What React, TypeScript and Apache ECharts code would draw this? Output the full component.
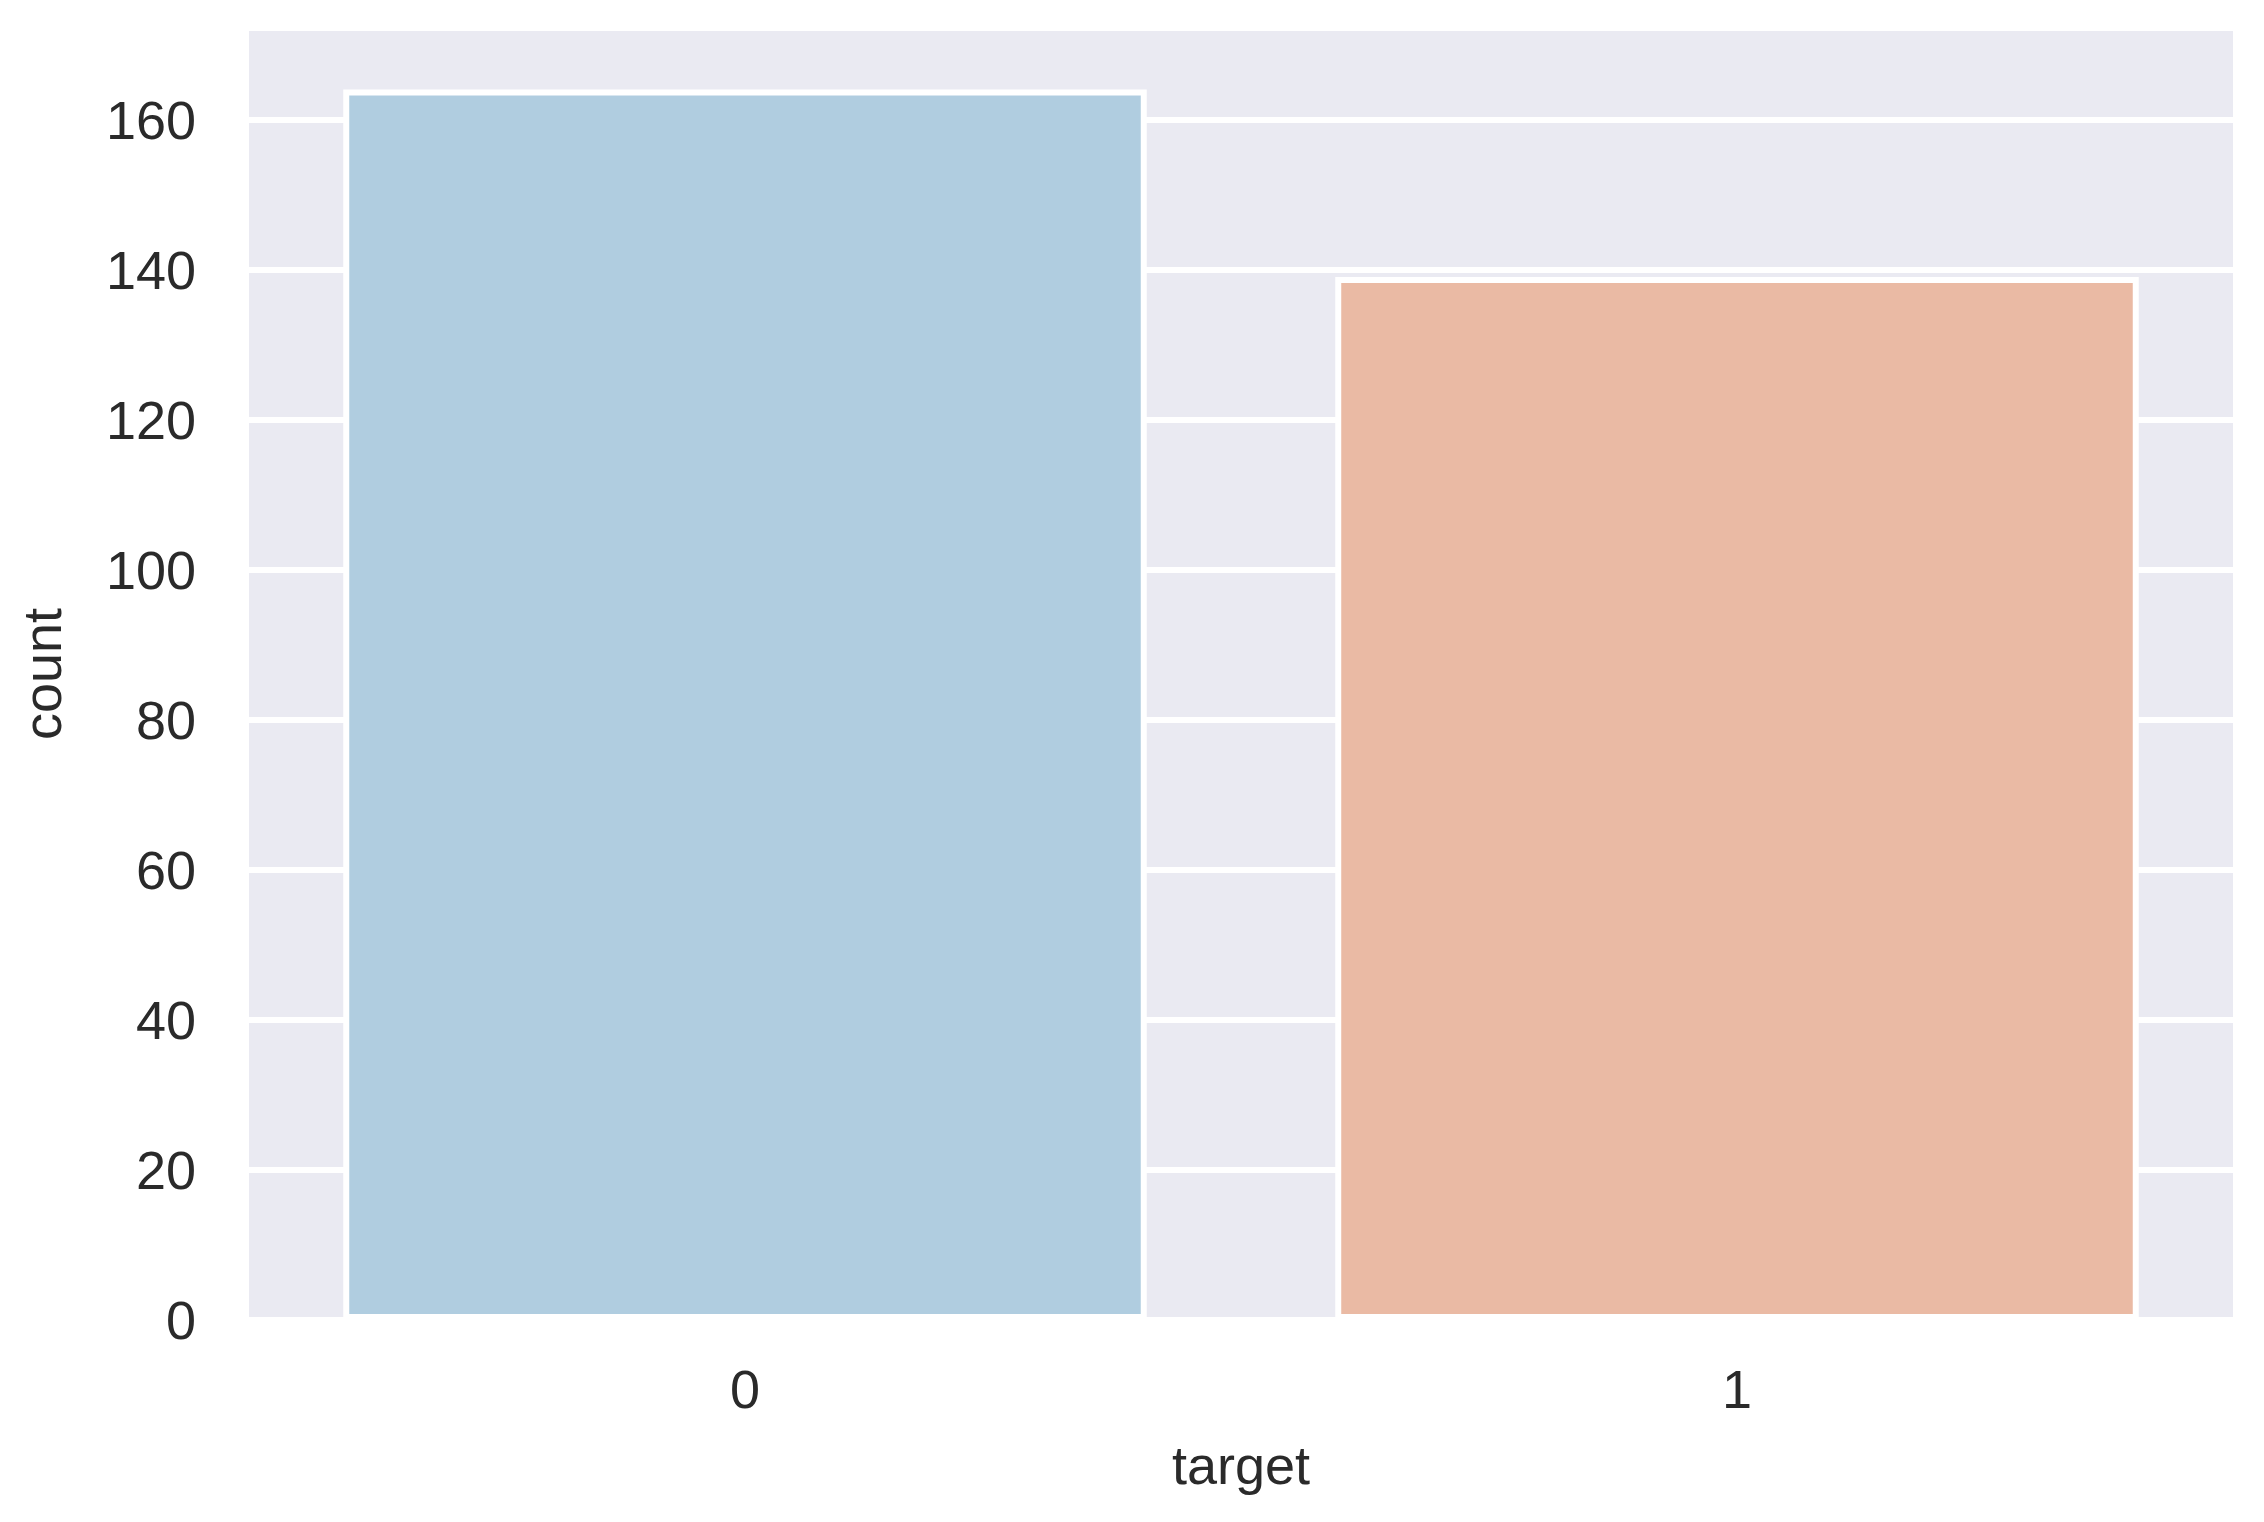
import React, { useEffect, useRef } from "react";
import * as echarts from "echarts";

const categories = ["0", "1"];
const counts = [164, 139];
const barColors = ["#b0cde0", "#eabaa4"];
const yTicks = [0, 20, 40, 60, 80, 100, 120, 140, 160];

export default function App() {
  const ref = useRef<HTMLDivElement>(null);
  useEffect(() => {
    const chart = echarts.init(ref.current!, undefined, { renderer: "svg" });
    const font = "Liberation Sans, Arial, sans-serif";
    chart.setOption({
      animation: false,
      backgroundColor: "#ffffff",
      grid: {
        left: 249,
        right: 2264 - 2233,
        top: 28,
        bottom: 1522 - 1320,
        show: true,
        backgroundColor: "#eaeaf2",
        borderWidth: 0,
        containLabel: false,
        outerBoundsMode: "none",
      },
      xAxis: {
        type: "category",
        data: categories,
        name: "target",
        nameLocation: "middle",
        nameGap: 118,
        nameTextStyle: { fontFamily: font, fontSize: 54, color: "#2a2a2a" },
        axisLine: { show: false },
        axisTick: { show: false },
        axisLabel: { fontFamily: font, fontSize: 54, color: "#2a2a2a", margin: 42 },
        splitLine: { show: false },
      },
      yAxis: {
        type: "value",
        min: 0,
        max: 172.2,
        interval: 20,
        name: "count",
        nameLocation: "middle",
        nameGap: 180,
        nameTextStyle: { fontFamily: font, fontSize: 54, color: "#2a2a2a" },
        axisLine: { show: false },
        axisTick: { show: false },
        axisLabel: {
          fontFamily: font,
          fontSize: 54,
          color: "#2a2a2a",
          margin: 53,
          showMaxLabel: false,
          formatter: (v: number) => (yTicks.includes(v) ? String(v) : ""),
        },
        splitLine: { show: true, lineStyle: { color: "#ffffff", width: 6 } },
      },
      series: [
        {
          type: "bar",
          barWidth: "81%",
          data: counts.map((v, i) => ({
            value: v,
            itemStyle: { color: barColors[i], borderColor: "#ffffff", borderWidth: 6 },
          })),
        },
      ],
    });
    return () => chart.dispose();
  }, []);
  return (
    <div
      ref={ref}
      style={{ position: "absolute", left: 0, top: 0, width: 2264, height: 1522 }}
    />
  );
}
